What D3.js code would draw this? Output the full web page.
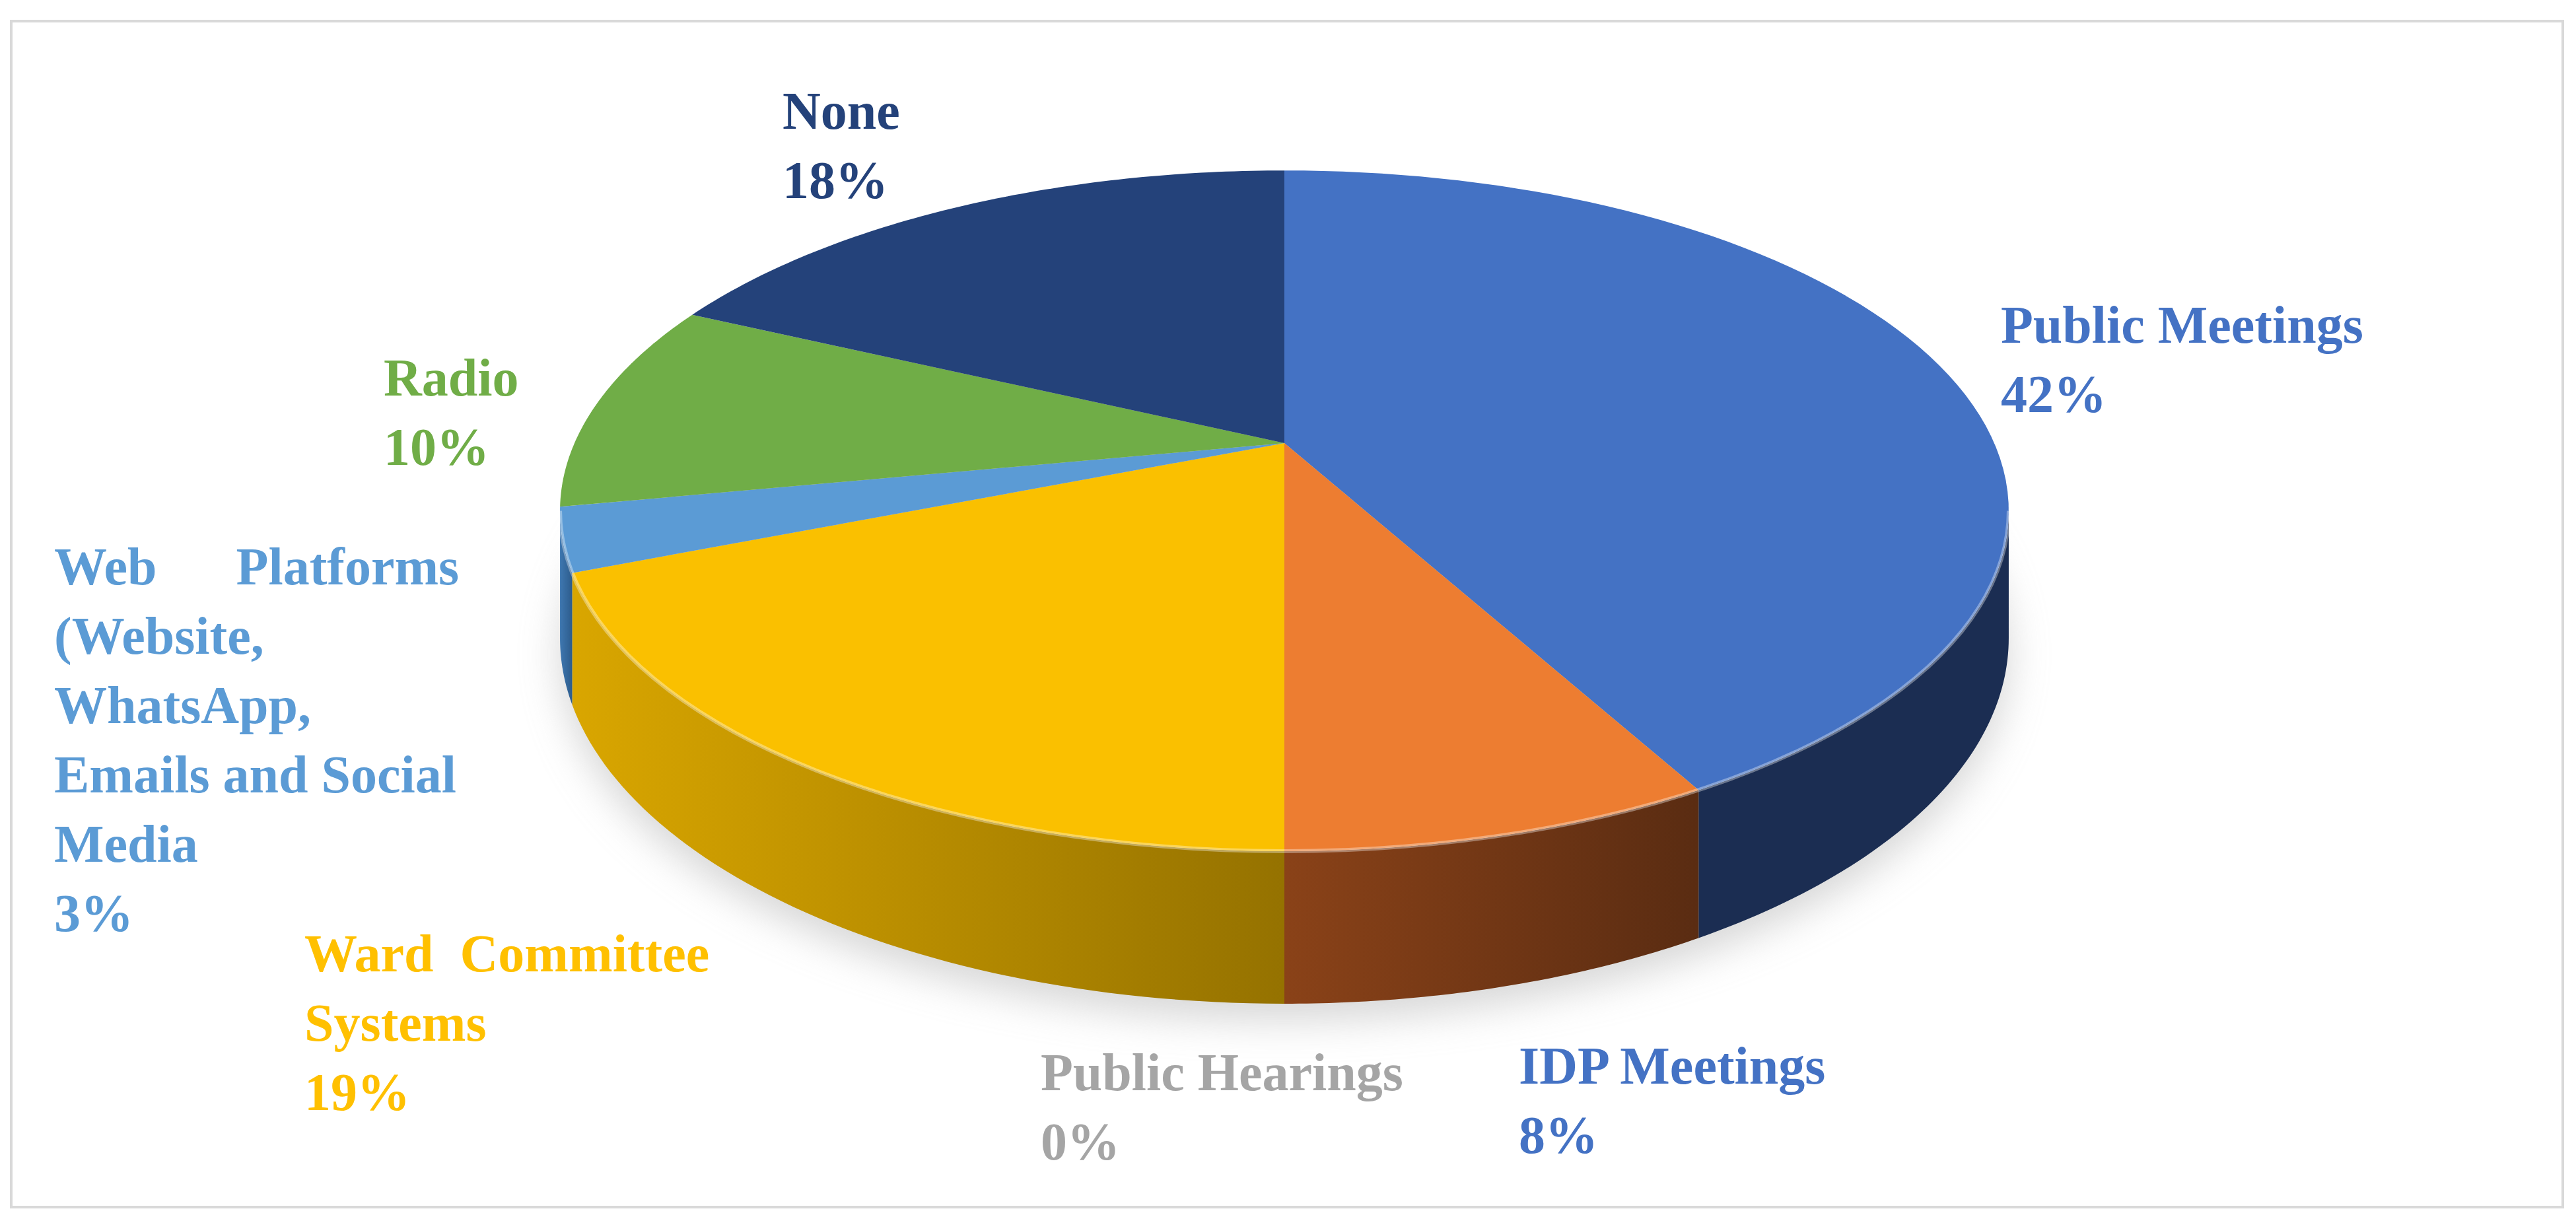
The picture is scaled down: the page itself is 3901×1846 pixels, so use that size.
<!DOCTYPE html><html><head><meta charset="utf-8">
<script src="https://cdn.jsdelivr.net/npm/d3@7"></script>
<style>body{margin:0;background:#fff}</style></head><body>
<svg id="c" width="3901" height="1846"></svg>
<script>
const categories=["Public Meetings","IDP Meetings","Public Hearings","Ward Committee Systems","Web Platforms","Radio","None"];
const values=[42,8,0,19,3,10,18];
const topColors=["#4472C4","#ED7D31","#A5A5A5","#FAC000","#5B9BD5","#70AD47","#24427A"];
const sideColors=[["#1B2D52","#1B2D52"],["#8A4218","#5A2C12"],["#777","#555"],["#D9A600","#957200"],["#3E77B0","#2D5C8C"],["#4E8030","#3A6024"],["#16284A","#16284A"]];
const labelLines=[["Public Meetings","42%"],["IDP Meetings","8%"],["Public Hearings","0%"],["Ward  Committee","Systems","19%"],["Web      Platforms","(Website,","WhatsApp,","Emails and Social","Media","3%"],["Radio","10%"],["None","18%"]];
const labelPos=[[3030,519],[2300,1641],[1576,1651],[461,1471],[82,885],[581,599],[1185,195]];
const labelColors=["#4472C4","#4472C4","#A5A5A5","#FFC000","#5B9BD5","#70AD47","#24427A"];

const svg=d3.select("#c");
svg.append("rect").attr("x",17).attr("y",32).attr("width",3864).attr("height",1796).attr("fill","#fff").attr("stroke","#D9D9D9").attr("stroke-width",4);
const defs=svg.append("defs");
defs.append("filter").attr("id","blur").append("feGaussianBlur").attr("stdDeviation",30);
const cx=1945,cy=671,A=1075,B=495,k=0.199,D=185;
const P=(t,dz=0)=>{const s=1/(1+k*Math.cos(t));return [cx+A*Math.sin(t)*s, cy-B*Math.cos(t)*s+dz*s];};
const pie=d3.pie().sort(null).value(d=>d)(values);
// shadow
const sh=[];for(let i=0;i<=120;i++){const t=i/120*2*Math.PI;const p=P(t,D);sh.push([p[0],p[1]+25]);}
svg.append("path").attr("d",d3.line()(sh)+"Z").attr("fill","#bbb").attr("opacity",0.6).attr("filter","url(#blur)");
const tL=Math.acos(-k), tR=2*Math.PI-Math.acos(-k);
// sides
pie.forEach((p,i)=>{
  const a=Math.max(p.startAngle,tL), b=Math.min(p.endAngle,tR);
  if(b<=a) return;
  const g=defs.append("linearGradient").attr("id","g"+i).attr("gradientUnits","userSpaceOnUse")
    .attr("x1",P(b)[0]).attr("x2",P(a)[0]).attr("y1",0).attr("y2",0);
  g.append("stop").attr("offset",0).attr("stop-color",sideColors[i][0]);
  g.append("stop").attr("offset",1).attr("stop-color",sideColors[i][1]);
  const pts=[];const n=60;
  for(let j=0;j<=n;j++)pts.push(P(a+(b-a)*j/n));
  for(let j=n;j>=0;j--)pts.push(P(a+(b-a)*j/n,D));
  svg.append("path").attr("d",d3.line()(pts)+"Z").attr("fill","url(#g"+i+")");
});
// tops
pie.forEach((p,i)=>{
  if(p.endAngle<=p.startAngle) return;
  const pts=[[cx,cy]];const n=80;
  for(let j=0;j<=n;j++)pts.push(P(p.startAngle+(p.endAngle-p.startAngle)*j/n));
  svg.append("path").attr("d",d3.line()(pts)+"Z").attr("fill",topColors[i]);
});
// rim highlight
const rim=[];for(let j=0;j<=80;j++)rim.push(P(tL+(tR-tL)*j/80));
svg.append("path").attr("d",d3.line()(rim)).attr("fill","none").attr("stroke","#fff").attr("stroke-opacity",0.35).attr("stroke-width",6);
// labels
categories.forEach((c,i)=>{
  const t=svg.append("text").attr("font-family","Liberation Serif").attr("font-weight","bold")
   .attr("font-size",80).attr("fill",labelColors[i]).attr("xml:space","preserve").style("white-space","pre");
  labelLines[i].forEach((l,j)=>t.append("tspan").attr("x",labelPos[i][0]).attr("y",labelPos[i][1]+j*105).text(l));
});
</script></body></html>
